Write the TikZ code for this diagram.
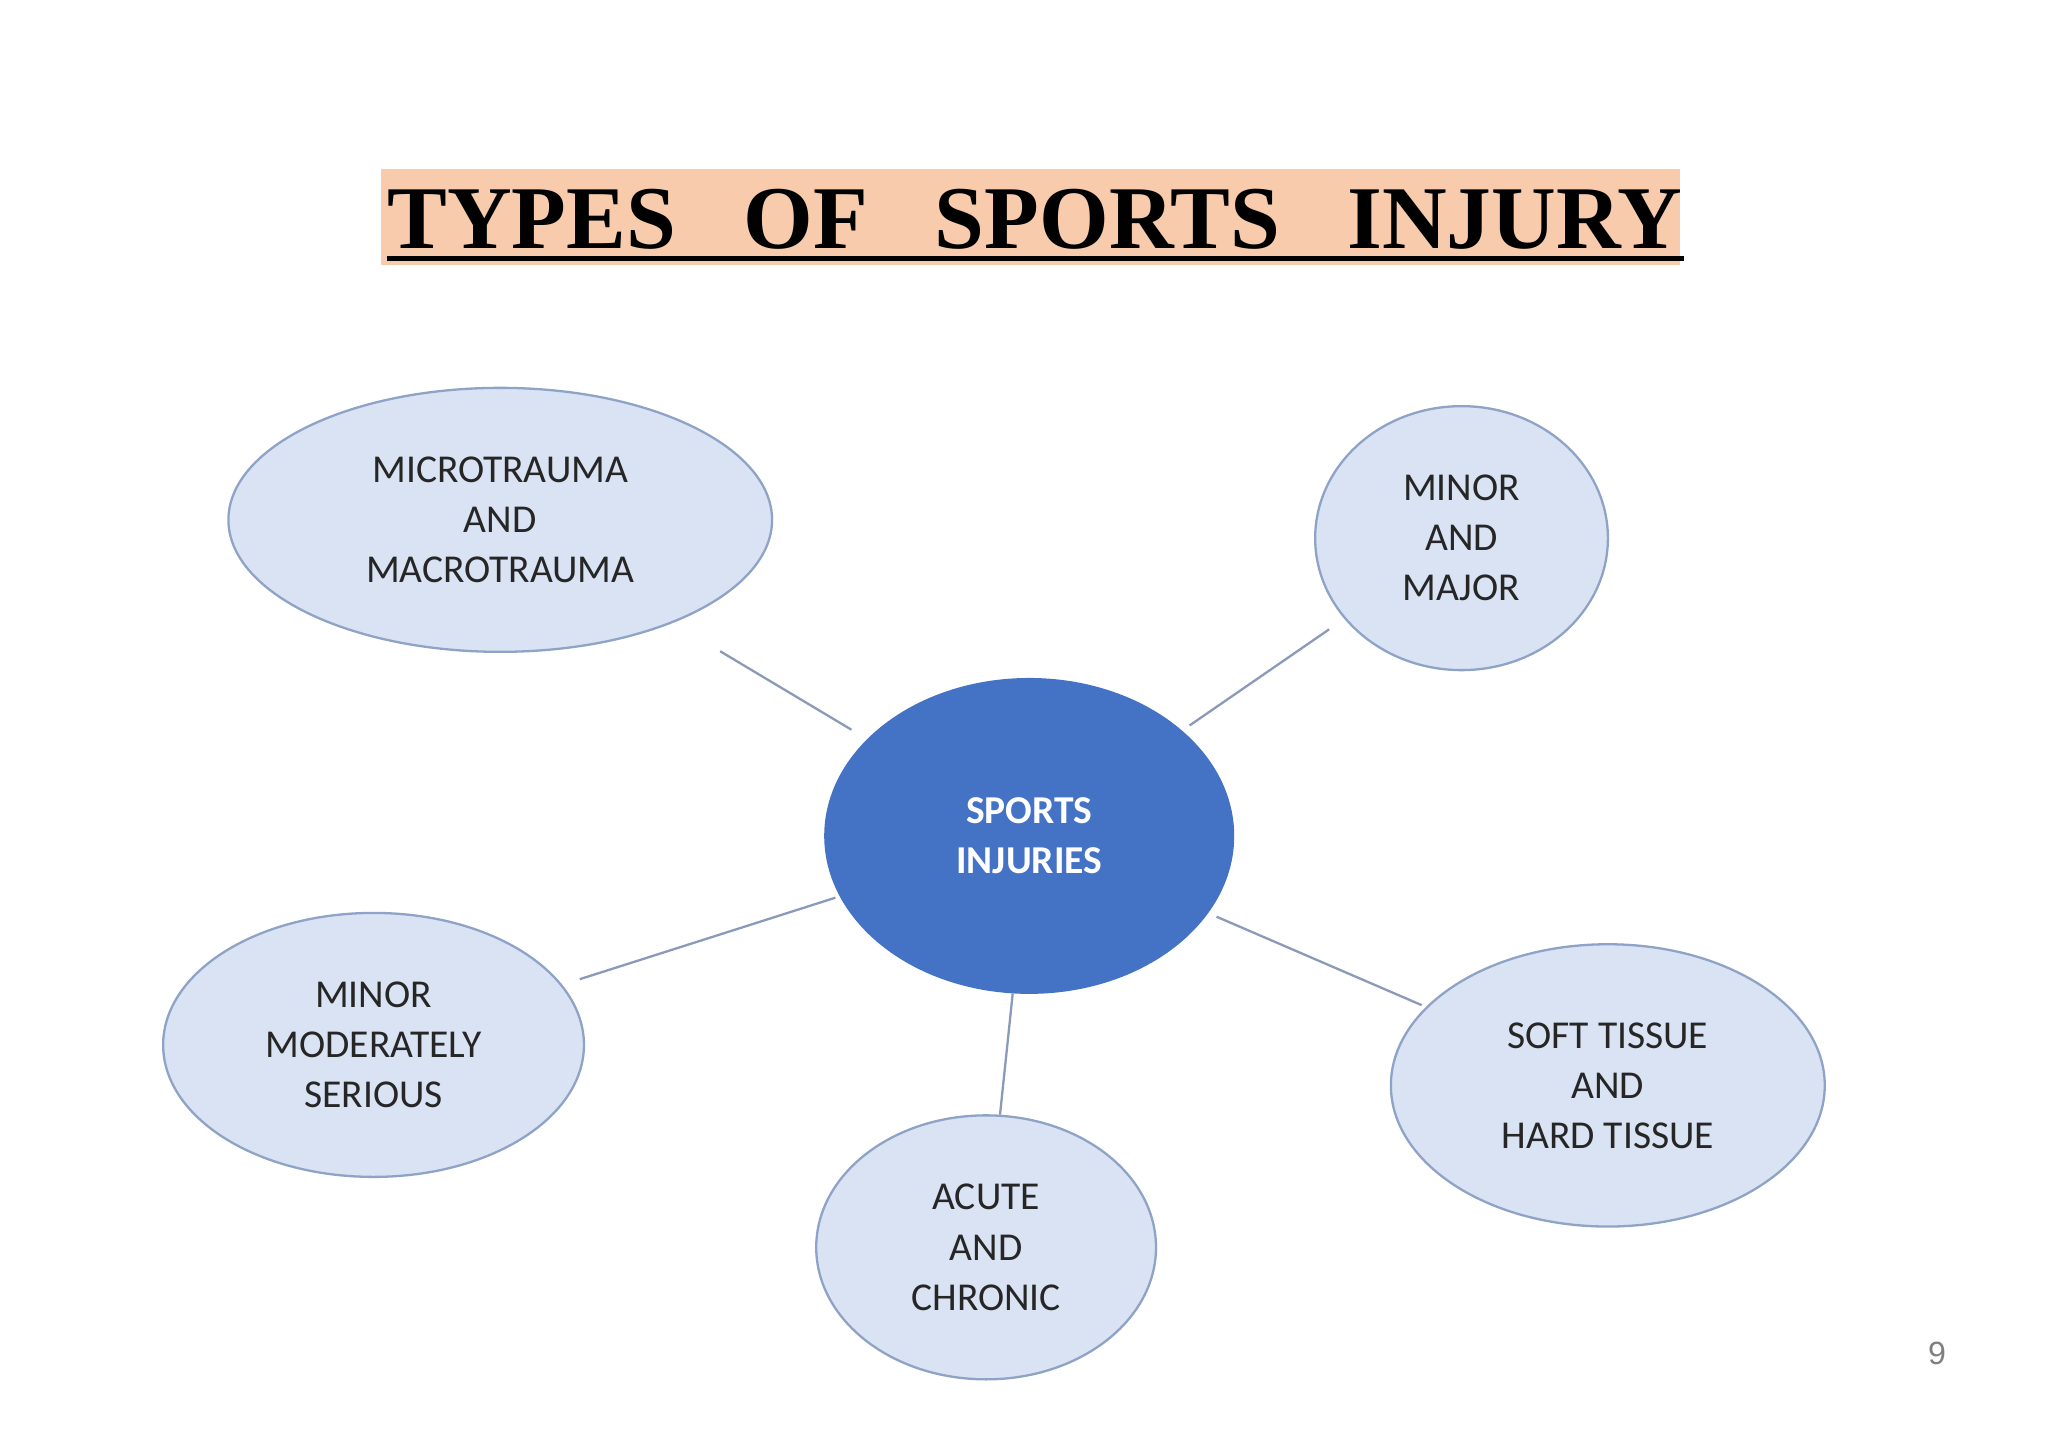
\documentclass[tikz,border=0pt]{standalone}
\usepackage{fontspec}
\usetikzlibrary{shapes.geometric}
\setmainfont{Liberation Serif}
\newfontfamily\bodyfont{Carlito}
\newfontfamily\numfont{Liberation Sans}
\definecolor{paleblue}{HTML}{DAE3F3}
\definecolor{rimblue}{HTML}{8EA3C6}
\definecolor{coreblue}{HTML}{4472C4}
\definecolor{peach}{HTML}{F7CBAC}
\definecolor{spoke}{HTML}{8A9AB8}
\begin{document}
\begin{tikzpicture}[x=0.01cm,y=-0.01cm]
\tikzset{bubble/.style={ellipse,draw=rimblue,fill=paleblue,line width=0.5pt,
  align=center,font=\bodyfont\fontsize{8.6}{10.9}\selectfont,text=black!85,inner sep=0pt},
  link/.style={draw=spoke,line width=0.5pt}}
\useasboundingbox[fill=white] (0,0) rectangle (1568,1108);
% title
\fill[peach] (292,129) rectangle (1286,203);
\node[anchor=base west,inner sep=0pt,font=\bfseries\fontsize{19.5}{22}\selectfont] (title) at (296,190) {TYPES\ \ \ OF\ \ \ SPORTS\ \ \ INJURY};
\draw[line width=1.2pt] (296,198) -- (title.east |- 0,198);
% bubbles
\node[bubble,minimum width=4.16cm,minimum height=2.02cm] (micro) at (383,398) {MICROTRAUMA\\AND\\MACROTRAUMA};
\node[bubble,minimum width=2.24cm,minimum height=2.02cm] (major) at (1119,412) {MINOR\\AND\\MAJOR};
\node[bubble,draw=coreblue,fill=coreblue,text=white,font=\bodyfont\bfseries\fontsize{8.6}{10.9}\selectfont,minimum width=3.12cm,minimum height=2.4cm] (core) at (788,640) {SPORTS\\INJURIES};
\node[bubble,minimum width=3.22cm,minimum height=2.02cm] (serious) at (286,800) {MINOR\\MODERATELY\\SERIOUS};
\node[bubble,minimum width=2.6cm,minimum height=2.02cm] (acute) at (755,955) {ACUTE\\AND\\CHRONIC};
\node[bubble,minimum width=3.32cm,minimum height=2.16cm] (tissue) at (1231,831) {SOFT TISSUE\\AND\\HARD TISSUE};
% spokes
\path[link,shorten <=4pt,shorten >=12pt] (core) -- (micro);
\path[link,shorten <=2pt,shorten >=4pt] (core) -- (major);
\path[link,shorten <=1pt,shorten >=4pt] (core) -- (serious);
\path[link,shorten <=2pt,shorten >=1pt] (core) -- (tissue);
\path[link] (core) -- (acute);
% page number
\node[font=\numfont\fontsize{7}{8}\selectfont,text=black!50] (page) at (1483,1036) {9};
\end{tikzpicture}
\end{document}
